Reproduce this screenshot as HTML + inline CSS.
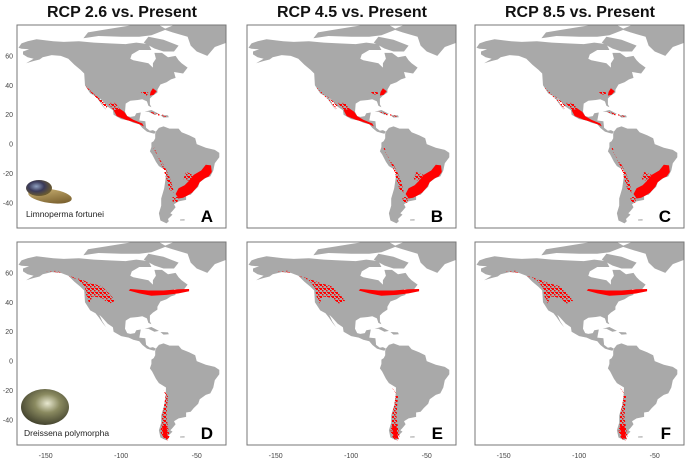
<!DOCTYPE html>
<html><head><meta charset="utf-8">
<style>
body{margin:0;background:#fff;}
svg{display:block;font-family:"Liberation Sans",Arial,sans-serif;}
</style></head>
<body>
<svg id="fig" width="685" height="460" viewBox="0 0 685 460" xmlns="http://www.w3.org/2000/svg">
<defs>
<radialGradient id="shell1" cx="40%" cy="40%" r="60%"><stop offset="0" stop-color="#8fa0c0"/><stop offset="0.5" stop-color="#3a3a5a"/><stop offset="1" stop-color="#6a5a30"/></radialGradient>
<linearGradient id="shell1b" x1="0" y1="0" x2="1" y2="1"><stop offset="0" stop-color="#d8c080"/><stop offset="1" stop-color="#6a5020"/></linearGradient>
<radialGradient id="shell2" cx="55%" cy="40%" r="65%"><stop offset="0" stop-color="#e8e8d0"/><stop offset="0.4" stop-color="#8a8a60"/><stop offset="1" stop-color="#3a3a28"/></radialGradient>
<pattern id="speck" width="4" height="4" patternUnits="userSpaceOnUse">
<rect x="0" y="0" width="2" height="2" fill="#ff0000"/><rect x="2" y="2" width="1.5" height="1.5" fill="#ff0000"/><rect x="3" y="0" width="1" height="1" fill="#ff0000"/>
</pattern>
</defs>
<text x="122" y="17" text-anchor="middle" font-size="16" font-weight="bold" fill="#111">RCP 2.6 vs. Present</text>
<text x="352" y="17" text-anchor="middle" font-size="16" font-weight="bold" fill="#111">RCP 4.5 vs. Present</text>
<text x="580" y="17" text-anchor="middle" font-size="16" font-weight="bold" fill="#111">RCP 8.5 vs. Present</text>
<g id="panels"></g>
</svg>
<script>
// geographic outlines (lon, lat)
const northAmerica=[[-168,65.5],[-166,68.5],[-162,70],[-156,71.3],[-145,70],[-138,69.5],[-128,70],[-118,69],[-108,68.5],[-97,68],[-90,69],[-82,68],[-80,64],[-88,64],[-93,61],[-94,58],[-92,57],[-87,56],[-82,55],[-79,52],[-79,55],[-77,58],[-78,62],[-73,62],[-69,59],[-64,60],[-62,57],[-60,55],[-56,52],[-59,48],[-65,49],[-64,45],[-67,44],[-70,42],[-74,40.5],[-76,37],[-76,35],[-79,33],[-81,31],[-81,27],[-80,25],[-82,26],[-83,29],[-86,30.5],[-89,30],[-94,29.5],[-97,27.5],[-97.5,22],[-96,19],[-94,18.5],[-91,19],[-90,21],[-87,21.5],[-88,16],[-84,15.5],[-83.5,11],[-81,9],[-79,9.5],[-77,8.5],[-78,7],[-80,7.5],[-83,8.5],[-86,11],[-88,13.5],[-92,14.5],[-95,16],[-100,17],[-105,20],[-105.5,23],[-109,25.5],[-112.5,29.5],[-114.5,31.5],[-112.5,27],[-110,23],[-112,25.5],[-115,30],[-117,32.5],[-120.5,34.5],[-124,40],[-124.5,48],[-127,50.5],[-131,54],[-135,58],[-140,60],[-146,60.5],[-152,59],[-154,57.5],[-158,56.5],[-163,55],[-158,58],[-162,59],[-165,61],[-165,63],[-161,64.5],[-166,64.8]];
const arcticIslands=[[-125,72],[-115,73.5],[-100,73],[-88,73],[-80,74],[-70,78],[-75,81],[-92,81],[-110,78],[-122,76]];
const baffin=[[-82,73],[-72,71],[-62,67],[-65,63],[-72,63],[-78,65],[-85,69]];
const greenland=[[-72,78],[-65,81],[-30,81],[-30,69],[-38,66],[-43,60],[-50,63],[-54,67],[-56,73],[-66,76]];
const cuba=[[-84.5,22],[-80,23.2],[-75,20.5],[-78,20],[-82,22]];
const hispaniola=[[-74,19.8],[-69,19.5],[-68.5,18.3],[-72,18]];
const southAmerica=[[-77,8.5],[-75,11],[-72,12],[-68,10.5],[-62,10.5],[-60,8],[-55,6],[-51,4],[-50,0],[-44,-2.5],[-38,-4],[-35,-6],[-35,-9],[-38,-13],[-39,-18],[-41,-22],[-44,-23],[-48,-26],[-49,-29],[-52,-32],[-54,-34.5],[-57,-35],[-57,-38],[-62,-39],[-65,-41],[-64,-43],[-66,-45.5],[-67.5,-47],[-66,-48],[-69,-51],[-68.5,-52.5],[-70,-54],[-74,-52],[-75,-47],[-73.5,-42],[-73.5,-37],[-71.5,-30],[-70.5,-23],[-70.3,-18],[-75,-15],[-77,-12],[-79.5,-7],[-81,-5],[-80,-2],[-80,1],[-78.5,2],[-77.5,4],[-77.5,7]];
const falklands=[[-61,-51.3],[-58,-51.2],[-58,-52],[-61,-52]];
const landShapes=[northAmerica,arcticIslands,baffin,greenland,cuba,hispaniola,southAmerica,falklands];

// red suitable-habitat regions per row: [dense, sparse]
const fortuneiDense=[
 [[-105,23],[-103,19],[-97,16.5],[-92,15],[-88,13.5],[-85,12],[-86,14],[-92,16.5],[-96,19],[-98,22],[-101,24]],
 [[-79,38],[-76.5,36],[-78.5,33.5],[-81,33],[-80.5,35.5]],
 [[-52,-21],[-47,-18],[-44,-14],[-40.5,-14.5],[-40,-19],[-42,-22],[-45,-23.5],[-48,-26],[-49.5,-29],[-53,-33],[-56,-35],[-59,-36.5],[-62,-37],[-64,-34],[-62,-30],[-58,-28],[-55,-25]]
];
const fortuneiSparse=[
 [[-124,40],[-121,36],[-117,32],[-114,29],[-110,24],[-109,26],[-113,30],[-118,34],[-123,39]],
 [[-109,28],[-105,23],[-101,24],[-104,28]],
 [[-87,35],[-83,33],[-82,35],[-85,36]],
 [[-82,22.5],[-76,20.5],[-70,19.5],[-70,18.5],[-77,19.8],[-81,21.8]],
 [[-57,-19],[-52,-21],[-55,-25],[-59,-24]],
 [[-78,-2],[-76,-8],[-72,-14],[-69,-20],[-67,-25],[-65,-33],[-68,-31],[-70,-24],[-72,-17],[-75,-10],[-78.5,-3]],
 [[-66,-36],[-62,-36],[-63,-40],[-66,-39]]
];
const polymorphaDense=[
 [[-95,48],[-88,46],[-80,44.5],[-70,45],[-62,46],[-55,47.5],[-55,49],[-62,48.8],[-72,48],[-82,48],[-94,49]]
];
const polymorphaSparse=[
 [[-135,58],[-128,56],[-120,53],[-113,51],[-108,46],[-104,41],[-108,39],[-113,43],[-119,44],[-121,39],[-123,44],[-124,50],[-128,55]],
 [[-150,61],[-140,60.2],[-142,61.5]],
 [[-73,-18],[-70.5,-23],[-71.5,-30],[-73,-37],[-73,-42],[-74,-48],[-72,-53],[-69,-54],[-68,-51],[-69,-45],[-70,-38],[-69.5,-30],[-69,-24]]
];
const polymorphaCore=[[[-73,-44],[-70,-44],[-69,-53],[-72,-52]]];

const panels=[
 {x0:17,y0:25,dense:fortuneiDense,sparse:fortuneiSparse,letter:'A',name:'panel-a',shell:1,xt:false},
 {x0:247,y0:25,dense:fortuneiDense,sparse:fortuneiSparse,letter:'B',name:'panel-b',shell:0,xt:false},
 {x0:475,y0:25,dense:fortuneiDense,sparse:fortuneiSparse,letter:'C',name:'panel-c',shell:0,xt:false},
 {x0:17,y0:242,dense:polymorphaDense.concat(polymorphaCore),sparse:polymorphaSparse,letter:'D',name:'panel-d',shell:2,xt:true},
 {x0:247,y0:242,dense:polymorphaDense.concat(polymorphaCore),sparse:polymorphaSparse,letter:'E',name:'panel-e',shell:0,xt:true},
 {x0:475,y0:242,dense:polymorphaDense.concat(polymorphaCore),sparse:polymorphaSparse,letter:'F',name:'panel-f',shell:0,xt:true}
];
const yTicks=[60,40,20,0,-20,-40];
const xTicks=[-150,-100,-50];
const W=209,H=203,LON0=-169,LAT0=81,KX=1.51,KY=1.47;
const NS='http://www.w3.org/2000/svg';
const root=document.getElementById('panels');
function el(t,a,p){const e=document.createElementNS(NS,t);for(const k in a)e.setAttribute(k,a[k]);(p||root).appendChild(e);return e;}
panels.forEach((p,i)=>{
 const sx=lon=>p.x0+(lon-LON0)*KX, sy=lat=>p.y0+(LAT0-lat)*KY;
 const pts=arr=>arr.map(c=>sx(c[0]).toFixed(1)+','+sy(c[1]).toFixed(1)).join(' ');
 const g=el('g',{});
 
 
 const cp=el('clipPath',{id:'cp'+i},g);
 el('rect',{x:p.x0,y:p.y0,width:W,height:H},cp);
 const m=el('g',{'clip-path':'url(#cp'+i+')'},g);
 
 
 landShapes.forEach(s=>{const q=el('polygon',{points:pts(s),fill:'#a9a9a9'},m);
  
  });
 p.sparse.forEach(s=>{const q=el('polygon',{points:pts(s),fill:'url(#speck)'},m);
  
  });
 p.dense.forEach(s=>{const q=el('polygon',{points:pts(s),fill:'#ff0000'},m);
  
  });
 const fr=el('rect',{x:p.x0,y:p.y0,width:W,height:H,fill:'none',stroke:'#777','stroke-width':1},g);
 
 
 if(p.x0===17){yTicks.forEach(v=>{const t=el('text',{x:13,y:sy(v)+2.5,'text-anchor':'end','font-size':7,fill:'#444'},g);t.textContent=v;
  
  });}
 if(p.xt){xTicks.forEach(v=>{const t=el('text',{x:sx(v),y:458,'text-anchor':'middle','font-size':7,fill:'#444'},g);t.textContent=v;
  
  });}
 const L=el('text',{x:p.x0+W-13,y:p.y0+H-6,'text-anchor':'end','font-size':17,'font-weight':'bold',fill:'#000'},g);L.textContent=p.letter;
 
 
 if(p.shell===1){
  const s=el('g',{},g);
  el('ellipse',{cx:p.x0+33,cy:p.y0+171,rx:22,ry:7,fill:'url(#shell1b)',transform:'rotate(8 '+(p.x0+33)+' '+(p.y0+171)+')'},s);
  el('ellipse',{cx:p.x0+22,cy:p.y0+163,rx:13,ry:8,fill:'url(#shell1)'},s);
  const t=el('text',{x:p.x0+9,y:p.y0+192,'font-size':8.5,fill:'#222'},g);t.textContent='Limnoperma fortunei';
  
 }
 if(p.shell===2){
  const s=el('ellipse',{cx:p.x0+28,cy:p.y0+165,rx:24,ry:18,fill:'url(#shell2)'},g);
  
  const t=el('text',{x:p.x0+7,y:p.y0+194,'font-size':8.5,fill:'#222'},g);t.textContent='Dreissena polymorpha';
  
 }
});
</script>
</body></html>
